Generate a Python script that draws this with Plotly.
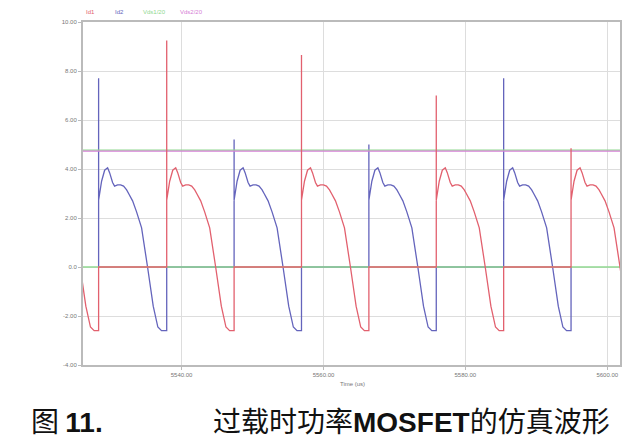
import plotly.graph_objects as go

# ---- data ----
# switching instants (us); even index -> Id1 (red) turns on, odd -> Id2 (blue)
switch_times = [5518.8, 5528.3, 5537.9, 5547.4, 5556.9, 5566.4, 5575.9, 5585.4, 5594.9]
spike_peaks = [8.0, 7.7, 9.25, 5.2, 8.65, 5.0, 7.0, 7.7, 4.85]
# conduction waveform after a switching instant (offset in us, current)
shape_dt = [0.0, 0.42, 0.85, 1.27, 1.55, 1.97, 2.25, 2.68, 3.10, 3.52, 3.95, 4.23, 4.79,
            5.35, 6.06, 6.9, 7.7, 8.35, 8.87]
shape_val = [2.73, 3.5, 3.95, 4.05, 3.85, 3.45, 3.3, 3.35, 3.35, 3.3, 3.15, 3.0, 2.7,
             2.25, 1.6, 0.0, -1.6, -2.45, -2.6]
tail_val = -2.6
period = 9.52
gate_level_1 = 4.77
gate_level_2 = 4.73
x_range = [5526.1, 5601.8]
y_range = [-4, 10]
x_ticks = [5540, 5560, 5580, 5600]
x_tick_labels = ["5540.00", "5560.00", "5580.00", "5600.00"]
y_ticks = [-4, -2, 0, 2, 4, 6, 8, 10]
y_tick_labels = ["-4.00", "-2.00", "0.0", "2.00", "4.00", "6.00", "8.00", "10.00"]
series_names = ["Id1", "Id2", "Vds1/20", "Vds2/20"]

W, H = 640, 441
ML, MR, MT, MB = 83, 20, 22, 76
PW, PH = W - ML - MR, H - MT - MB


def px(xp):
    return (xp - ML) / PW


def py(yp):
    return (H - MB - yp) / PH


def build(owner):
    xs, ys = [], []
    for k, t in enumerate(switch_times):
        if k % 2 != owner:
            continue
        t_end = switch_times[k + 1] if k + 1 < len(switch_times) else t + period
        xs += [t, t, t]
        ys += [0, spike_peaks[k], shape_val[0]]
        for dt, v in zip(shape_dt[1:], shape_val[1:]):
            if t + dt < t_end:
                xs.append(t + dt)
                ys.append(v)
        xs += [t_end, t_end]
        ys += [tail_val, 0]
    return xs, ys


x1, y1 = build(0)
x2, y2 = build(1)

RED = "#e2606e"
BLUE = "#6464bc"
GREEN = "#90d890"
MAG = "#d680d6"

fig = go.Figure()
fig.add_trace(go.Scatter(x=x2, y=y2, mode="lines", line=dict(color=BLUE, width=1.3),
                         name=series_names[1], showlegend=False))
fig.add_trace(go.Scatter(x=x_range, y=[gate_level_1, gate_level_1], mode="lines",
                         line=dict(color=GREEN, width=1.3), showlegend=False))
fig.add_trace(go.Scatter(x=x_range, y=[0, 0], mode="lines",
                         line=dict(color=GREEN, width=1.3), name=series_names[2], showlegend=False))
fig.add_trace(go.Scatter(x=x_range, y=[gate_level_2, gate_level_2], mode="lines",
                         line=dict(color=MAG, width=1.3), name=series_names[3], showlegend=False))
fig.add_trace(go.Scatter(x=x1, y=y1, mode="lines", line=dict(color=RED, width=1.3),
                         name=series_names[0], showlegend=False))

tickfont = dict(family="Liberation Sans, Arial", size=6, color="#777777")
fig.update_xaxes(range=x_range, tickvals=x_ticks, ticktext=x_tick_labels, tickfont=tickfont,
                 showgrid=True, gridcolor="#dddddd", gridwidth=1, zeroline=False,
                 showline=True, linecolor="#bbbbbb", linewidth=2, mirror=True,
                 ticks="outside", ticklen=3, tickcolor="#bbbbbb")
fig.update_yaxes(range=y_range, tickvals=y_ticks, ticktext=y_tick_labels, tickfont=tickfont,
                 showgrid=True, gridcolor="#dddddd", gridwidth=1, zeroline=False,
                 showline=True, linecolor="#bbbbbb", linewidth=2, mirror=True,
                 ticks="outside", ticklen=3, tickcolor="#bbbbbb")

legend_cols = [RED, BLUE, GREEN, MAG]
legend_x = [84, 113, 141, 178]
annotations = []
for name, col, lx in zip(series_names, legend_cols, legend_x):
    annotations.append(dict(text=name, x=px(lx), y=py(12), xref="paper", yref="paper",
                            xanchor="left", yanchor="middle", showarrow=False,
                            font=dict(family="Liberation Sans, Arial", size=6, color=col)))
annotations.append(dict(text="Time (us)", x=px(352), y=py(384), xref="paper", yref="paper",
                        xanchor="center", yanchor="middle", showarrow=False,
                        font=dict(family="Liberation Sans, Arial", size=6, color="#777777")))
cap_font = dict(family="Noto Sans CJK SC, Liberation Sans", size=28, color="#111111")
annotations.append(dict(text="图 <span style='font-family:Liberation Sans'><b>11.</b></span>",
                        x=px(29), y=py(420), xref="paper", yref="paper",
                        xanchor="left", yanchor="middle", showarrow=False, font=cap_font))
annotations.append(dict(text="过载时功率<span style='font-family:Liberation Sans'><b>MOSFET</b></span>的仿真波形",
                        x=px(211), y=py(420), xref="paper", yref="paper", xanchor="left",
                        yanchor="middle", showarrow=False, font=cap_font))

fig.update_layout(width=W, height=H, margin=dict(l=ML, r=MR, t=MT, b=MB, autoexpand=False),
                  paper_bgcolor="white", plot_bgcolor="white", showlegend=False,
                  annotations=annotations)

fig.write_html("out.html", post_script="document.body.style.margin='0';",
               config={"displayModeBar": False})
